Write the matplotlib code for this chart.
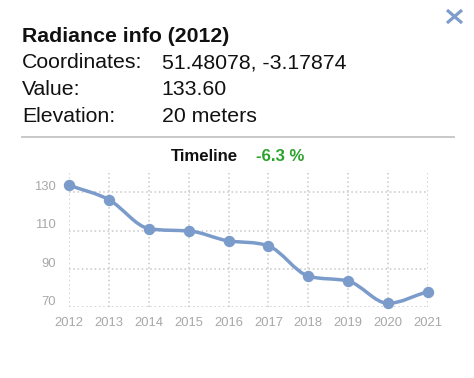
import numpy as np
import matplotlib
matplotlib.use('Agg')
from matplotlib import pyplot as plt
from matplotlib.path import Path
from matplotlib.patches import PathPatch
from matplotlib.lines import Line2D
from matplotlib.transforms import ScaledTranslation

plt.rcParams['font.family'] = ['Liberation Sans', 'DejaVu Sans']

# chart data
years = [2012, 2013, 2014, 2015, 2016, 2017, 2018, 2019, 2020, 2021]
radiance = [133.6, 126.0, 111.0, 109.8, 104.6, 102.0, 86.3, 83.7, 72.1, 78.2]
yticks = [70, 90, 110, 130]

title = 'Radiance info (2012)'
info_labels = ['Coordinates:', 'Value:', 'Elevation:']
info_values = ['51.48078, -3.17874', '133.60', '20 meters']
timeline_label = 'Timeline'
change_label = '-6.3 %'

LINE_COLOR = '#7b9bcb'
GRID_COLOR = '#c8c8c8'
TICK_COLOR = '#a8a8a8'


def monotoneSlopes(x, y):
    # Fritsch-Carlson tangents for a smooth line through the points
    x = np.asarray(x, float)
    y = np.asarray(y, float)
    h = np.diff(x)
    d = np.diff(y) / h
    m = np.zeros_like(y)
    m[0] = d[0]
    m[-1] = d[-1]
    for k in range(1, len(y) - 1):
        if d[k - 1] * d[k] <= 0:
            m[k] = 0
        else:
            m[k] = (d[k - 1] + d[k]) / 2
    for k in range(len(d)):
        if d[k] == 0:
            m[k] = m[k + 1] = 0
            continue
        a = m[k] / d[k]
        b = m[k + 1] / d[k]
        s = a * a + b * b
        if s > 9:
            t = 3 / np.sqrt(s)
            m[k] = t * a * d[k]
            m[k + 1] = t * b * d[k]
    return m


def smoothPath(x, y):
    m = monotoneSlopes(x, y)
    verts = [(x[0], y[0])]
    codes = [Path.MOVETO]
    for k in range(len(x) - 1):
        h = x[k + 1] - x[k]
        verts += [(x[k] + h / 3, y[k] + m[k] * h / 3),
                  (x[k + 1] - h / 3, y[k + 1] - m[k + 1] * h / 3),
                  (x[k + 1], y[k + 1])]
        codes += [Path.CURVE4] * 3
    return Path(verts, codes)


def visualize():
    fig = plt.figure(figsize=(4.74, 3.78), dpi=100)
    fig.patch.set_facecolor('white')

    # header text
    fig.text(22 / 474, 1 - 41.5 / 378, title, fontsize=15.3, fontweight='bold',
             color='#111111', va='baseline', ha='left')
    for i, (lab, val) in enumerate(zip(info_labels, info_values)):
        yb = 1 - (68.3 + i * 26.6) / 378
        fig.text(22 / 474, yb, lab, fontsize=15.3, color='#111111', va='baseline')
        fig.text(161.5 / 474, yb, val, fontsize=15.3, color='#111111', va='baseline')

    # separator
    fig.add_artist(Line2D([22 / 474, 454 / 474], [1 - 136.7 / 378] * 2,
                          transform=fig.transFigure, color='#c4c4c4', lw=1.3))

    # close button
    for xs, ys in [([447, 462], [10, 23]), ([447, 462], [23, 10])]:
        fig.add_artist(Line2D([v / 474 for v in xs], [1 - v / 378 for v in ys],
                              transform=fig.transFigure, color='#7f9dcb', lw=2.3,
                              solid_capstyle='butt'))

    # timeline heading
    fig.text(171 / 474, 1 - 160.7 / 378, timeline_label, fontsize=12.1,
             fontweight='bold', color='#111111', va='baseline')
    fig.text(255.5 / 474, 1 - 160.7 / 378, change_label, fontsize=12.1,
             fontweight='bold', color='#2ba32b', va='baseline')

    ax = fig.add_axes([69.3 / 474, 1 - 307.3 / 378, 358.4 / 474, 134.3 / 378])
    ax.set_xlim(years[0], years[-1])
    ax.set_ylim(70, 140)

    patch = PathPatch(smoothPath(years, radiance), facecolor='none',
                      edgecolor=LINE_COLOR, lw=2.5, clip_on=False, zorder=3,
                      capstyle='round', joinstyle='round')
    ax.add_patch(patch)
    ax.plot(years, radiance, 'o', color=LINE_COLOR, markersize=7.2,
            clip_on=False, zorder=4)

    ax.set_xticks(years)
    ax.set_yticks(yticks)
    ax.grid(True, color=GRID_COLOR, linestyle=(0, (1, 1.8)), lw=1.1)
    ax.set_axisbelow(True)
    for s in ax.spines.values():
        s.set_visible(False)
    ax.tick_params(length=0, colors=TICK_COLOR, labelsize=9.4)
    ax.tick_params(axis='x', pad=7)
    ax.tick_params(axis='y', pad=10)
    offset = ScaledTranslation(0, 6.6 / 100, fig.dpi_scale_trans)
    for lab in ax.get_yticklabels():
        lab.set_transform(lab.get_transform() + offset)

    plt.savefig('out.png', dpi=100)


if __name__ == '__main__':
    visualize()
